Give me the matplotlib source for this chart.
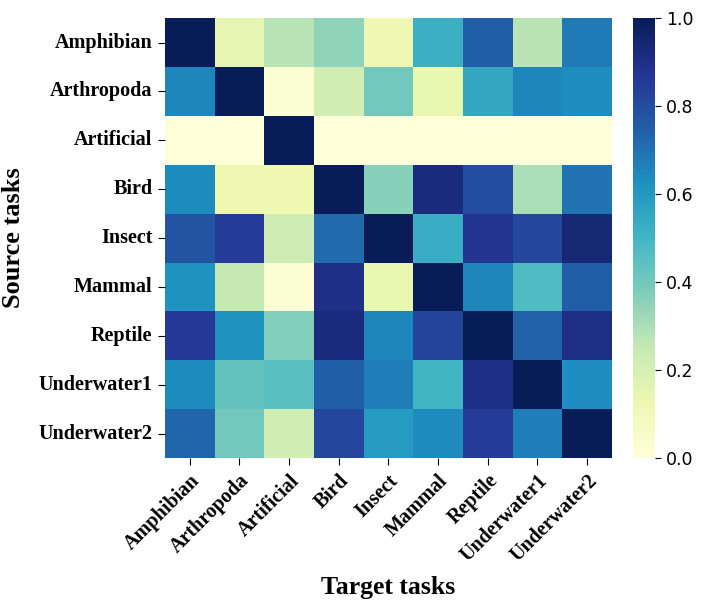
import matplotlib
matplotlib.use("Agg")
import matplotlib.pyplot as plt
import numpy as np
import seaborn as sns

# task names (same for rows and columns)
tasks = ["Amphibian", "Arthropoda", "Artificial", "Bird", "Insect",
         "Mammal", "Reptile", "Underwater1", "Underwater2"]

# transfer scores, one list per source task
amphibian   = [1.00, 0.15, 0.28, 0.35, 0.12, 0.52, 0.75, 0.27, 0.68]
arthropoda  = [0.65, 1.00, 0.02, 0.22, 0.40, 0.14, 0.55, 0.65, 0.63]
artificial  = [0.00, 0.00, 1.00, 0.00, 0.00, 0.00, 0.00, 0.00, 0.00]
bird        = [0.64, 0.12, 0.12, 1.00, 0.36, 0.92, 0.80, 0.30, 0.70]
insect      = [0.78, 0.85, 0.23, 0.72, 1.00, 0.53, 0.88, 0.82, 0.94]
mammal      = [0.62, 0.25, 0.02, 0.90, 0.14, 1.00, 0.65, 0.47, 0.75]
reptile     = [0.86, 0.62, 0.37, 0.92, 0.65, 0.83, 1.00, 0.74, 0.91]
underwater1 = [0.64, 0.43, 0.45, 0.75, 0.67, 0.50, 0.90, 1.00, 0.63]
underwater2 = [0.73, 0.40, 0.22, 0.82, 0.59, 0.64, 0.85, 0.67, 1.00]

scores = np.array([amphibian, arthropoda, artificial, bird, insect,
                   mammal, reptile, underwater1, underwater2])

fig = plt.figure(figsize=(7.05, 6.02), dpi=100)
ax = fig.add_axes([0.234, 0.239, 0.634, 0.731])
cax = fig.add_axes([0.898, 0.239, 0.031, 0.731])

sns.heatmap(scores, ax=ax, cbar_ax=cax, cmap="YlGnBu", vmin=0, vmax=1,
            xticklabels=tasks, yticklabels=tasks)

serif = {"family": "Liberation Serif", "weight": "bold"}
ax.set_xticklabels(tasks, rotation=45, ha="right", rotation_mode="anchor",
                   fontsize=14.5, **serif)
ax.set_yticklabels(tasks, rotation=0, fontsize=14.5, **serif)
ax.tick_params(axis="x", length=5, pad=4)
ax.tick_params(axis="y", length=5, pad=4)
ax.set_xlabel("Target tasks", fontsize=18.5, labelpad=8, **serif)
ax.set_ylabel("Source tasks", fontsize=19, labelpad=10, **serif)

cax.set_yticks([0, 0.2, 0.4, 0.6, 0.8, 1.0])
cax.tick_params(labelsize=12.5, length=4, pad=4)

fig.savefig("out.png", dpi=100)
